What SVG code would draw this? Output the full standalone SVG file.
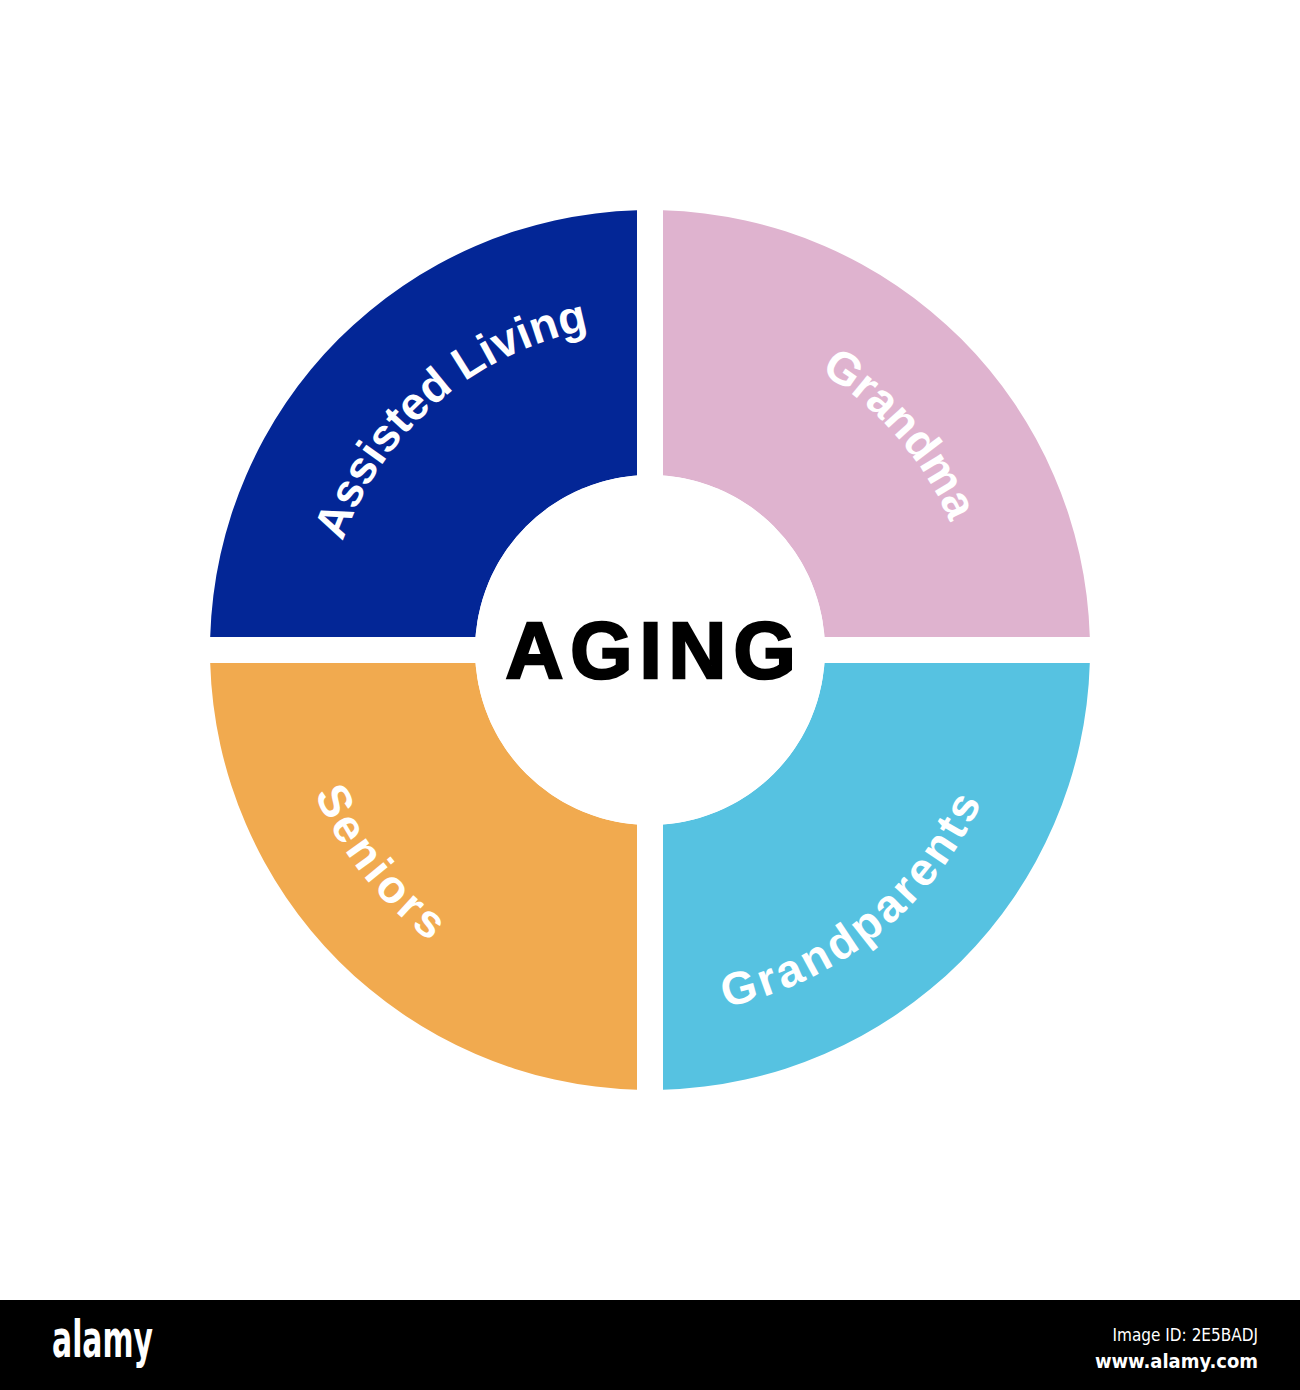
<svg xmlns="http://www.w3.org/2000/svg" xmlns:xlink="http://www.w3.org/1999/xlink" width="1300" height="1390" viewBox="0 0 1300 1390">
  <style>
    .seg-label { font-family: "Liberation Sans", Arial, sans-serif; font-weight: bold; font-size: 46px; fill: #ffffff; }
    .bottom-label { letter-spacing: 3.5px; }
    .title { font-family: "Liberation Sans", Arial, sans-serif; font-weight: bold; font-size: 80px; fill: #000000; stroke: #000000; stroke-width: 2.5px; letter-spacing: 7px; }
    .wm { font-family: "DejaVu Sans Condensed", "Liberation Sans Narrow", "DejaVu Sans", sans-serif; fill: #ffffff; }
  </style>
  <defs>
    <path id="p-assisted" d="M329.67,710.53 A326,326 0 0 1 757.75,342.32"/>
    <path id="p-grandma" d="M588.91,329.77 A326,326 0 0 1 957.87,757.21"/>
    <path id="p-grandparents" d="M461.47,962.54 A365,365 0 0 0 995.32,531.77"/>
    <path id="p-seniors" d="M339.12,458.74 A365,365 0 0 0 765.21,996.34"/>
  </defs>
  <rect x="0" y="0" width="1300" height="1390" fill="#ffffff"/>

  <g id="node-assisted-living">
    <path d="M637,210.19 A440,440 0 0 0 210.19,637 L475.48,637 A175,175 0 0 1 637,475.48 Z" fill="#032696"/>
    <text class="seg-label"><textPath xlink:href="#p-assisted" href="#p-assisted" startOffset="50%" text-anchor="middle">Assisted Living</textPath></text>
  </g>

  <g id="node-grandma">
    <path d="M663,210.19 A440,440 0 0 1 1089.81,637 L824.52,637 A175,175 0 0 0 663,475.48 Z" fill="#DFB3CF"/>
    <text class="seg-label"><textPath xlink:href="#p-grandma" href="#p-grandma" startOffset="50%" text-anchor="middle">Grandma</textPath></text>
  </g>

  <g id="node-grandparents">
    <path d="M1089.81,663 A440,440 0 0 1 663,1089.81 L663,824.52 A175,175 0 0 0 824.52,663 Z" fill="#56C2E1"/>
    <text class="seg-label bottom-label"><textPath xlink:href="#p-grandparents" href="#p-grandparents" startOffset="50%" text-anchor="middle">Grandparents</textPath></text>
  </g>

  <g id="node-seniors">
    <path d="M637,1089.81 A440,440 0 0 1 210.19,663 L475.48,663 A175,175 0 0 0 637,824.52 Z" fill="#F1AA4F"/>
    <text class="seg-label bottom-label"><textPath xlink:href="#p-seniors" href="#p-seniors" startOffset="50%" text-anchor="middle">Seniors</textPath></text>
  </g>

  <g id="node-aging">
    <circle cx="650" cy="650" r="175" fill="#ffffff"/>
    <text class="title" x="654" y="678" text-anchor="middle">AGING</text>
  </g>

  <g id="connectors"></g>

  <g id="footer">
    <rect x="0" y="1300" width="1300" height="90" fill="#000000"/>
    <text class="wm" x="52" y="1357" font-size="52" font-weight="bold" textLength="101" lengthAdjust="spacingAndGlyphs">alamy</text>
    <text class="wm" x="1258" y="1341" font-size="17" text-anchor="end">Image ID: 2E5BADJ</text>
    <text class="wm" x="1258" y="1368" font-size="20" font-weight="bold" text-anchor="end">www.alamy.com</text>
  </g>
</svg>
